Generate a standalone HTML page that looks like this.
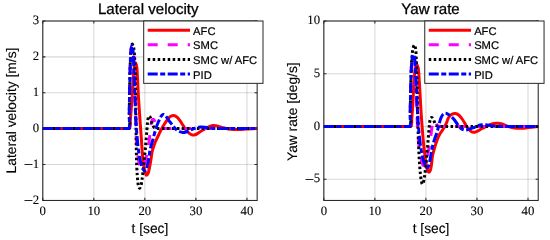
<!DOCTYPE html>
<html><head><meta charset="utf-8"><title>Lateral velocity and Yaw rate</title>
<style>html,body{margin:0;padding:0;background:#fff;} svg{display:block;} text{text-rendering:geometricPrecision;}</style>
</head><body>
<svg width="550" height="240" viewBox="0 0 550 240">
<rect width="550" height="240" fill="#fff"/>
<line x1="42.78" y1="21.0" x2="42.78" y2="200.45" stroke="#262626" stroke-opacity="0.18" stroke-width="1.05"/>
<line x1="93.82" y1="21.0" x2="93.82" y2="200.45" stroke="#262626" stroke-opacity="0.18" stroke-width="1.05"/>
<line x1="144.86" y1="21.0" x2="144.86" y2="200.45" stroke="#262626" stroke-opacity="0.18" stroke-width="1.05"/>
<line x1="195.90" y1="21.0" x2="195.90" y2="200.45" stroke="#262626" stroke-opacity="0.18" stroke-width="1.05"/>
<line x1="246.94" y1="21.0" x2="246.94" y2="200.45" stroke="#262626" stroke-opacity="0.18" stroke-width="1.05"/>
<line x1="42.78" y1="200.45" x2="257.15" y2="200.45" stroke="#262626" stroke-opacity="0.18" stroke-width="1.05"/>
<line x1="42.78" y1="164.56" x2="257.15" y2="164.56" stroke="#262626" stroke-opacity="0.18" stroke-width="1.05"/>
<line x1="42.78" y1="128.67" x2="257.15" y2="128.67" stroke="#262626" stroke-opacity="0.18" stroke-width="1.05"/>
<line x1="42.78" y1="92.78" x2="257.15" y2="92.78" stroke="#262626" stroke-opacity="0.18" stroke-width="1.05"/>
<line x1="42.78" y1="56.89" x2="257.15" y2="56.89" stroke="#262626" stroke-opacity="0.18" stroke-width="1.05"/>
<line x1="42.78" y1="21.00" x2="257.15" y2="21.00" stroke="#262626" stroke-opacity="0.18" stroke-width="1.05"/>
<path d="M42.78,200.45 v-2.6 M42.78,21.0 v2.6 M93.82,200.45 v-2.6 M93.82,21.0 v2.6 M144.86,200.45 v-2.6 M144.86,21.0 v2.6 M195.90,200.45 v-2.6 M195.90,21.0 v2.6 M246.94,200.45 v-2.6 M246.94,21.0 v2.6 M42.78,200.45 h2.6 M257.15,200.45 h-2.6 M42.78,164.56 h2.6 M257.15,164.56 h-2.6 M42.78,128.67 h2.6 M257.15,128.67 h-2.6 M42.78,92.78 h2.6 M257.15,92.78 h-2.6 M42.78,56.89 h2.6 M257.15,56.89 h-2.6 M42.78,21.00 h2.6 M257.15,21.00 h-2.6" stroke="#262626" stroke-width="1.05" fill="none"/>
<path d="M42.78,128.50 L129.50,128.50 C130.75,127.36 130.11,122.28 130.40,119.00 C130.71,115.47 131.01,111.75 131.30,108.00 C131.61,104.09 131.92,100.29 132.20,96.00 C132.52,91.05 132.75,84.95 133.10,80.00 C133.40,75.71 133.58,71.16 134.10,68.00 C134.45,65.89 134.93,62.83 135.40,62.80 C135.78,62.78 136.28,64.56 136.60,66.00 C137.19,68.70 137.22,73.59 137.50,78.00 C137.84,83.39 138.08,90.38 138.40,96.00 C138.68,100.96 139.01,105.51 139.30,110.00 C139.57,114.15 139.83,118.29 140.10,122.00 C140.33,125.22 140.57,127.92 140.80,131.00 C141.04,134.25 141.26,137.51 141.50,141.00 C141.76,144.82 141.97,149.14 142.30,153.00 C142.61,156.62 142.93,160.25 143.40,163.50 C143.82,166.36 144.23,169.36 144.90,171.50 C145.38,173.03 145.99,175.23 146.60,175.30 C147.07,175.35 147.68,174.20 148.10,173.30 C148.75,171.92 149.07,169.53 149.50,167.50 C149.97,165.28 150.37,163.01 150.80,160.50 C151.30,157.58 151.55,154.09 152.30,151.00 C153.05,147.93 154.19,144.78 155.30,142.00 C156.31,139.49 157.58,137.14 158.60,135.00 C159.46,133.19 160.14,131.65 161.00,130.00 C161.87,128.32 162.78,126.64 163.80,125.00 C164.84,123.31 166.08,121.45 167.20,120.00 C168.14,118.78 168.95,117.54 170.00,116.80 C170.91,116.15 171.96,115.63 173.00,115.60 C174.12,115.57 175.42,116.08 176.50,116.80 C177.79,117.65 178.93,119.30 180.00,120.70 C181.10,122.13 182.00,123.78 183.00,125.30 C184.00,126.81 184.95,128.44 186.00,129.80 C186.96,131.05 187.92,132.32 189.00,133.20 C189.94,133.96 190.96,134.64 192.00,134.90 C192.97,135.14 194.03,135.06 195.00,134.80 C196.03,134.52 197.01,133.79 198.00,133.20 C199.02,132.59 199.99,131.84 201.00,131.20 C201.99,130.57 203.00,129.99 204.00,129.40 C205.00,128.82 205.99,128.21 207.00,127.70 C207.99,127.21 208.99,126.75 210.00,126.40 C210.99,126.06 211.99,125.72 213.00,125.60 C213.99,125.49 214.97,125.55 216.00,125.70 C217.13,125.86 218.30,126.27 219.50,126.60 C220.79,126.96 222.12,127.43 223.50,127.80 C224.95,128.19 226.38,128.62 228.00,128.90 C229.85,129.22 232.00,129.40 234.00,129.50 C236.00,129.60 238.00,129.57 240.00,129.50 C242.00,129.43 244.00,129.23 246.00,129.10 C248.00,128.97 250.34,128.81 252.00,128.70 L257.15,128.50" fill="none" stroke="#ff0000" stroke-width="3.0" stroke-linejoin="round"/>
<path d="M42.78,128.50 L129.00,128.50 C131.10,126.44 129.26,113.31 129.40,105.00 C129.56,95.61 129.67,83.99 129.90,75.00 C130.09,67.66 130.19,60.16 130.60,55.00 C130.86,51.73 131.01,48.57 131.60,47.00 C131.88,46.26 132.31,45.45 132.60,45.50 C133.06,45.59 133.34,48.05 133.60,50.00 C134.07,53.52 134.09,59.64 134.30,65.00 C134.54,71.19 134.72,78.33 134.90,85.00 C135.08,91.67 135.23,98.33 135.40,105.00 C135.57,111.67 135.72,118.81 135.90,125.00 C136.06,130.36 136.13,135.39 136.40,140.00 C136.63,143.95 136.92,147.57 137.30,151.00 C137.64,154.02 138.03,156.86 138.50,159.50 C138.91,161.82 139.28,164.24 139.90,166.00 C140.35,167.29 140.86,169.05 141.50,169.20 C141.98,169.31 142.65,168.62 143.10,168.00 C143.78,167.08 144.14,165.29 144.60,163.80 C145.11,162.15 145.57,160.36 146.00,158.50 C146.48,156.45 146.87,154.21 147.30,152.00 C147.74,149.71 148.22,147.42 148.60,145.00 C149.00,142.43 149.30,139.67 149.60,137.00 C149.90,134.34 150.09,131.47 150.40,129.00 C150.67,126.85 150.91,124.64 151.30,123.00 C151.58,121.81 151.84,120.61 152.30,120.00 C152.58,119.62 152.96,119.27 153.30,119.30 C153.70,119.33 154.13,119.95 154.50,120.50 C155.06,121.33 155.46,122.84 156.00,124.00 C156.55,125.18 157.01,126.75 157.80,127.50 C158.42,128.09 159.19,128.32 160.00,128.50 L257.15,128.50" fill="none" stroke="#ff00ff" stroke-width="3.0" stroke-linejoin="round" stroke-dasharray="10 10"/>
<path d="M42.78,128.50 L129.00,128.50 C130.67,126.86 129.20,118.17 129.30,112.00 C129.43,104.10 129.53,93.33 129.70,85.00 C129.84,77.83 129.95,71.07 130.20,65.00 C130.41,59.92 130.53,54.85 131.00,51.00 C131.33,48.25 131.76,44.05 132.30,44.00 C132.68,43.96 133.27,45.98 133.60,47.30 C134.06,49.12 134.19,51.54 134.40,54.00 C134.65,57.00 134.76,60.39 134.90,64.00 C135.07,68.27 135.19,72.92 135.30,78.00 C135.43,84.07 135.50,91.33 135.60,98.00 C135.70,104.67 135.81,111.70 135.90,118.00 C135.98,123.63 136.03,128.67 136.10,134.00 C136.17,139.33 136.20,144.75 136.30,150.00 C136.40,155.08 136.50,160.28 136.70,165.00 C136.88,169.22 137.08,173.35 137.40,177.00 C137.67,180.08 137.86,183.46 138.40,185.50 C138.72,186.72 139.17,188.28 139.60,188.30 C140.00,188.32 140.54,187.02 140.90,186.00 C141.49,184.34 141.74,181.48 142.10,179.00 C142.51,176.19 142.86,173.08 143.20,170.00 C143.56,166.76 143.87,163.33 144.20,160.00 C144.53,156.67 144.88,153.33 145.20,150.00 C145.52,146.67 145.82,143.33 146.10,140.00 C146.38,136.67 146.64,133.15 146.90,130.00 C147.14,127.18 147.31,124.32 147.60,122.00 C147.83,120.19 147.96,118.23 148.40,117.20 C148.65,116.63 149.00,115.99 149.30,116.00 C149.63,116.01 149.99,116.85 150.30,117.50 C150.76,118.49 151.07,120.13 151.50,121.50 C151.96,122.96 152.29,124.86 153.00,126.00 C153.54,126.88 154.19,127.58 155.00,128.00 C155.84,128.43 157.00,128.42 158.00,128.50 L257.15,128.50" fill="none" stroke="#000000" stroke-width="3.0" stroke-linejoin="round" stroke-dasharray="2.5 2.5"/>
<path d="M42.78,128.50 L128.80,128.50 C130.28,127.06 129.09,119.62 129.20,115.00 C129.32,110.13 129.40,105.00 129.50,100.00 C129.60,95.00 129.68,90.00 129.80,85.00 C129.92,80.00 130.06,74.82 130.20,70.00 C130.33,65.51 130.40,60.81 130.60,57.00 C130.76,54.01 130.88,51.09 131.20,49.00 C131.41,47.62 131.70,45.62 132.00,45.60 C132.22,45.58 132.52,46.53 132.70,47.30 C133.05,48.78 133.04,51.36 133.20,54.00 C133.42,57.82 133.61,63.11 133.80,68.00 C134.01,73.39 134.19,79.51 134.40,85.00 C134.59,90.16 134.80,95.09 135.00,100.00 C135.20,104.75 135.38,109.42 135.60,114.00 C135.81,118.41 136.02,122.85 136.30,127.00 C136.56,130.82 136.87,134.42 137.20,138.00 C137.51,141.41 137.83,144.86 138.20,148.00 C138.53,150.82 138.83,153.39 139.30,156.00 C139.76,158.55 140.36,161.23 141.00,163.50 C141.55,165.44 142.06,167.46 142.80,168.80 C143.33,169.75 144.02,171.00 144.60,171.00 C145.15,171.00 145.75,169.87 146.20,169.00 C146.84,167.75 147.16,165.78 147.60,164.00 C148.10,161.98 148.61,159.75 149.00,157.50 C149.42,155.10 149.47,152.59 150.00,150.00 C150.59,147.12 151.63,144.15 152.50,141.00 C153.46,137.52 154.56,133.10 155.50,130.00 C156.20,127.69 156.79,125.84 157.50,124.00 C158.13,122.38 158.83,120.90 159.50,119.50 C160.10,118.25 160.58,116.87 161.30,116.00 C161.86,115.32 162.55,114.58 163.20,114.50 C163.79,114.43 164.43,114.86 165.00,115.30 C165.72,115.86 166.28,116.85 167.00,117.80 C167.91,119.01 168.99,120.62 170.00,122.00 C170.99,123.36 171.97,124.75 173.00,126.00 C173.97,127.18 174.89,128.37 176.00,129.30 C177.07,130.19 178.32,130.96 179.50,131.50 C180.56,131.99 181.62,132.42 182.70,132.50 C183.78,132.58 184.87,132.33 186.00,132.00 C187.29,131.62 188.59,130.80 190.00,130.20 C191.57,129.53 193.31,128.74 195.00,128.20 C196.65,127.68 198.32,127.16 200.00,127.00 C201.66,126.84 203.34,127.03 205.00,127.20 C206.67,127.37 208.25,127.79 210.00,128.00 C211.90,128.23 213.80,128.41 216.00,128.50 C218.69,128.61 222.80,128.50 225.00,128.50 L257.15,128.50" fill="none" stroke="#0000ff" stroke-width="3.0" stroke-linejoin="round" stroke-dasharray="10 2.5 5 2.5"/>
<rect x="42.78" y="21.0" width="214.37" height="179.45" fill="none" stroke="#262626" stroke-width="1.05"/>
<g font-family='"Liberation Serif", "DejaVu Serif", serif' font-size="12.8" fill="#000" stroke="#000" stroke-width="0.08">
<text x="39.08" y="203.55" text-anchor="end"><tspan font-size="16.64" dy="2.17">−</tspan><tspan dy="-2.17" dx="-0.35">2</tspan></text>
<text x="39.08" y="167.66" text-anchor="end"><tspan font-size="16.64" dy="2.17">−</tspan><tspan dy="-2.17" dx="-0.35">1</tspan></text>
<text x="39.08" y="131.77" text-anchor="end">0</text>
<text x="39.08" y="95.88" text-anchor="end">1</text>
<text x="39.08" y="59.99" text-anchor="end">2</text>
<text x="39.08" y="24.10" text-anchor="end">3</text>
<text x="42.78" y="214.9" text-anchor="middle">0</text>
<text x="93.82" y="214.9" text-anchor="middle">10</text>
<text x="144.86" y="214.9" text-anchor="middle">20</text>
<text x="195.90" y="214.9" text-anchor="middle">30</text>
<text x="246.94" y="214.9" text-anchor="middle">40</text>
</g>
<text transform="translate(97.90,14.0)" x="0" y="0" font-family='"Liberation Sans", Arial, Helvetica, sans-serif' font-size="15.1" fill="#000" stroke="#000" stroke-width="0.3">Lateral velocity</text>
<text transform="translate(149.96,233.1)" x="0" y="0" text-anchor="middle" font-family='"Liberation Sans", Arial, Helvetica, sans-serif' font-size="13.75" fill="#000" stroke="#000" stroke-width="0.12">t [sec]</text>
<text transform="translate(15.80,110.50) rotate(-90)" x="0" y="0" text-anchor="middle" font-family='"Liberation Sans", Arial, Helvetica, sans-serif' font-size="13.8" fill="#000" stroke="#000" stroke-width="0.12">Lateral velocity [m/s]</text>
<rect x="143.70" y="21.0" width="119.30" height="62.35" fill="#fff" stroke="#262626" stroke-width="1"/>
<line x1="147.70" y1="30.20" x2="190.00" y2="30.20" stroke="#ff0000" stroke-width="3.0"/>
<text transform="translate(193.10,34.75)" x="0" y="0" font-family='"Liberation Sans", Arial, Helvetica, sans-serif' font-size="11.2" fill="#000" stroke="#000" stroke-width="0.2">AFC</text>
<line x1="147.70" y1="44.83" x2="190.00" y2="44.83" stroke="#ff00ff" stroke-width="3.0" stroke-dasharray="10 10"/>
<text transform="translate(193.10,49.38)" x="0" y="0" font-family='"Liberation Sans", Arial, Helvetica, sans-serif' font-size="11.2" fill="#000" stroke="#000" stroke-width="0.2">SMC</text>
<line x1="147.70" y1="59.46" x2="190.00" y2="59.46" stroke="#000000" stroke-width="3.0" stroke-dasharray="2.5 2.5"/>
<text transform="translate(193.10,64.01)" x="0" y="0" font-family='"Liberation Sans", Arial, Helvetica, sans-serif' font-size="11.2" fill="#000" stroke="#000" stroke-width="0.2">SMC w/ AFC</text>
<line x1="147.70" y1="74.09" x2="190.00" y2="74.09" stroke="#0000ff" stroke-width="3.0" stroke-dasharray="10 2.5 5 2.5"/>
<text transform="translate(193.10,78.64)" x="0" y="0" font-family='"Liberation Sans", Arial, Helvetica, sans-serif' font-size="11.2" fill="#000" stroke="#000" stroke-width="0.2">PID</text>
<line x1="323.83" y1="21.0" x2="323.83" y2="200.45" stroke="#262626" stroke-opacity="0.18" stroke-width="1.05"/>
<line x1="374.88" y1="21.0" x2="374.88" y2="200.45" stroke="#262626" stroke-opacity="0.18" stroke-width="1.05"/>
<line x1="425.92" y1="21.0" x2="425.92" y2="200.45" stroke="#262626" stroke-opacity="0.18" stroke-width="1.05"/>
<line x1="476.97" y1="21.0" x2="476.97" y2="200.45" stroke="#262626" stroke-opacity="0.18" stroke-width="1.05"/>
<line x1="528.01" y1="21.0" x2="528.01" y2="200.45" stroke="#262626" stroke-opacity="0.18" stroke-width="1.05"/>
<line x1="323.83" y1="179.34" x2="538.22" y2="179.34" stroke="#262626" stroke-opacity="0.18" stroke-width="1.05"/>
<line x1="323.83" y1="126.56" x2="538.22" y2="126.56" stroke="#262626" stroke-opacity="0.18" stroke-width="1.05"/>
<line x1="323.83" y1="73.78" x2="538.22" y2="73.78" stroke="#262626" stroke-opacity="0.18" stroke-width="1.05"/>
<line x1="323.83" y1="21.00" x2="538.22" y2="21.00" stroke="#262626" stroke-opacity="0.18" stroke-width="1.05"/>
<path d="M323.83,200.45 v-2.6 M323.83,21.0 v2.6 M374.88,200.45 v-2.6 M374.88,21.0 v2.6 M425.92,200.45 v-2.6 M425.92,21.0 v2.6 M476.97,200.45 v-2.6 M476.97,21.0 v2.6 M528.01,200.45 v-2.6 M528.01,21.0 v2.6 M323.83,179.34 h2.6 M538.22,179.34 h-2.6 M323.83,126.56 h2.6 M538.22,126.56 h-2.6 M323.83,73.78 h2.6 M538.22,73.78 h-2.6 M323.83,21.00 h2.6 M538.22,21.00 h-2.6" stroke="#262626" stroke-width="1.05" fill="none"/>
<path d="M323.83,126.50 L411.00,126.50 C412.16,125.45 411.54,120.95 411.80,118.00 C412.08,114.80 412.36,111.55 412.60,108.00 C412.87,103.95 413.04,99.49 413.30,95.00 C413.57,90.18 413.84,84.72 414.20,80.00 C414.52,75.77 414.60,70.77 415.30,68.00 C415.69,66.44 416.32,64.49 416.80,64.50 C417.28,64.51 417.83,66.45 418.20,68.00 C418.85,70.77 418.90,75.92 419.20,80.00 C419.51,84.24 419.74,88.51 420.00,93.00 C420.28,97.82 420.52,103.28 420.80,108.00 C421.05,112.22 421.32,116.18 421.60,120.00 C421.86,123.49 422.12,126.52 422.40,130.00 C422.71,133.82 423.02,138.09 423.40,142.00 C423.76,145.75 424.18,149.52 424.60,153.00 C424.98,156.15 425.30,159.08 425.80,162.00 C426.28,164.81 426.75,168.41 427.50,170.20 C427.91,171.18 428.43,172.28 428.90,172.30 C429.33,172.31 429.84,171.38 430.20,170.60 C430.79,169.32 431.05,167.10 431.40,165.00 C431.84,162.36 431.96,158.90 432.50,156.00 C433.01,153.24 433.76,150.56 434.50,148.00 C435.20,145.58 436.01,143.18 436.80,141.00 C437.51,139.04 438.16,137.15 439.00,135.50 C439.75,134.02 440.65,132.80 441.50,131.50 C442.32,130.24 443.21,129.15 444.00,127.80 C444.89,126.28 445.74,124.48 446.50,122.80 C447.24,121.15 447.61,119.23 448.50,117.80 C449.31,116.50 450.31,115.22 451.50,114.50 C452.63,113.82 454.15,113.38 455.40,113.50 C456.65,113.62 457.90,114.34 459.00,115.20 C460.30,116.22 461.47,118.06 462.50,119.50 C463.45,120.83 464.22,122.20 465.00,123.50 C465.72,124.70 466.24,125.91 467.00,127.00 C467.75,128.07 468.68,129.17 469.50,130.00 C470.17,130.68 470.79,131.31 471.50,131.70 C472.13,132.04 472.79,132.27 473.50,132.30 C474.28,132.34 475.15,132.09 476.00,131.80 C476.98,131.46 478.01,130.84 479.00,130.30 C480.01,129.75 480.91,129.08 482.00,128.50 C483.22,127.84 484.67,127.25 486.00,126.60 C487.34,125.95 488.64,125.14 490.00,124.60 C491.31,124.08 492.68,123.63 494.00,123.40 C495.24,123.18 496.43,123.12 497.70,123.20 C499.08,123.29 500.49,123.56 502.00,124.00 C503.79,124.52 505.92,125.67 507.70,126.30 C509.22,126.84 510.45,127.27 512.00,127.60 C513.75,127.97 515.93,128.19 517.70,128.30 C519.23,128.39 520.59,128.37 522.00,128.30 C523.36,128.23 524.59,128.07 526.00,127.90 C527.58,127.71 529.33,127.38 531.00,127.20 C532.66,127.02 534.55,126.93 536.00,126.80 L538.22,126.50" fill="none" stroke="#ff0000" stroke-width="3.0" stroke-linejoin="round"/>
<path d="M323.83,126.50 L410.00,126.50 C411.99,124.55 410.26,112.44 410.40,105.00 C410.55,96.98 410.66,87.41 410.90,80.00 C411.09,74.07 411.24,68.24 411.60,64.00 C411.84,61.19 411.93,58.44 412.50,57.00 C412.79,56.26 413.29,55.44 413.60,55.50 C414.04,55.58 414.34,57.49 414.60,59.00 C415.05,61.63 415.10,66.05 415.30,70.00 C415.54,74.61 415.71,79.84 415.90,85.00 C416.11,90.49 416.30,96.42 416.50,102.00 C416.70,107.41 416.87,112.85 417.10,118.00 C417.31,122.82 417.52,127.73 417.80,132.00 C418.03,135.61 418.28,138.86 418.60,142.00 C418.89,144.82 419.22,147.43 419.60,150.00 C419.96,152.42 420.37,154.81 420.80,157.00 C421.18,158.95 421.53,160.96 422.00,162.50 C422.36,163.67 422.63,165.24 423.20,165.50 C423.59,165.67 424.20,165.40 424.60,165.00 C425.27,164.33 425.56,162.48 426.00,161.00 C426.53,159.21 427.02,157.08 427.50,155.00 C428.02,152.76 428.54,150.42 429.00,148.00 C429.48,145.43 429.92,142.67 430.30,140.00 C430.68,137.34 430.97,134.58 431.30,132.00 C431.61,129.59 431.86,126.96 432.20,125.00 C432.45,123.57 432.54,122.04 433.00,121.30 C433.27,120.87 433.66,120.47 434.00,120.50 C434.40,120.53 434.82,121.26 435.20,121.80 C435.70,122.51 436.02,123.75 436.60,124.50 C437.13,125.19 437.76,125.87 438.50,126.20 C439.23,126.53 440.13,126.45 441.00,126.50 L538.22,126.50" fill="none" stroke="#ff00ff" stroke-width="3.0" stroke-linejoin="round" stroke-dasharray="10 10"/>
<path d="M323.83,126.50 L410.00,126.50 C411.67,124.86 410.19,115.76 410.30,110.00 C410.42,103.65 410.54,96.49 410.70,90.00 C410.85,83.84 410.98,77.62 411.20,72.00 C411.39,67.04 411.57,62.15 411.90,58.00 C412.17,54.67 412.36,51.38 412.90,49.00 C413.27,47.37 413.84,45.01 414.30,45.00 C414.70,44.99 415.20,46.68 415.50,48.00 C416.03,50.33 416.00,54.23 416.20,58.00 C416.46,62.92 416.62,69.10 416.80,75.00 C416.99,81.40 417.15,88.33 417.30,95.00 C417.45,101.67 417.56,108.81 417.70,115.00 C417.83,120.36 417.95,125.00 418.10,130.00 C418.25,135.00 418.40,140.00 418.60,145.00 C418.80,150.00 419.01,155.28 419.30,160.00 C419.56,164.22 419.83,168.35 420.20,172.00 C420.51,175.08 420.83,178.26 421.30,180.50 C421.62,182.00 421.98,184.16 422.40,184.20 C422.73,184.23 423.19,182.94 423.50,182.00 C424.00,180.52 424.27,178.15 424.60,176.00 C424.98,173.53 425.28,170.82 425.60,168.00 C425.95,164.85 426.28,161.33 426.60,158.00 C426.92,154.67 427.22,151.33 427.50,148.00 C427.78,144.67 428.04,141.25 428.30,138.00 C428.54,134.92 428.75,131.81 429.00,129.00 C429.22,126.52 429.37,123.95 429.70,122.00 C429.95,120.56 430.09,119.07 430.60,118.30 C430.92,117.82 431.40,117.36 431.80,117.40 C432.27,117.45 432.78,118.32 433.20,119.00 C433.76,119.91 434.08,121.39 434.60,122.50 C435.09,123.55 435.47,124.83 436.20,125.50 C436.82,126.08 437.66,126.33 438.50,126.50 L538.22,126.50" fill="none" stroke="#000000" stroke-width="3.0" stroke-linejoin="round" stroke-dasharray="2.5 2.5"/>
<path d="M323.83,126.50 L409.80,126.50 C411.13,125.20 410.01,119.09 410.10,115.00 C410.21,110.33 410.28,105.00 410.40,100.00 C410.52,95.00 410.66,89.82 410.80,85.00 C410.93,80.51 411.02,76.05 411.20,72.00 C411.36,68.45 411.52,64.91 411.80,62.00 C412.02,59.74 412.14,57.30 412.60,56.00 C412.85,55.30 413.23,54.47 413.50,54.50 C413.84,54.53 414.15,55.91 414.40,57.00 C414.83,58.89 414.97,62.01 415.20,65.00 C415.49,68.81 415.67,73.51 415.90,78.00 C416.14,82.82 416.37,88.00 416.60,93.00 C416.83,98.00 417.05,103.28 417.30,108.00 C417.52,112.22 417.74,116.18 418.00,120.00 C418.24,123.49 418.49,126.52 418.80,130.00 C419.14,133.82 419.53,138.29 420.00,142.00 C420.41,145.22 420.89,148.14 421.40,151.00 C421.87,153.62 422.27,156.13 422.90,158.50 C423.49,160.71 424.14,163.14 425.00,164.80 C425.64,166.04 426.53,167.80 427.20,167.80 C427.78,167.80 428.36,166.59 428.80,165.60 C429.49,164.04 429.76,161.25 430.20,159.00 C430.66,156.66 431.06,154.16 431.50,151.80 C431.93,149.50 432.25,147.23 432.80,145.00 C433.35,142.79 434.08,140.70 434.80,138.50 C435.56,136.20 436.55,133.85 437.25,131.50 C437.94,129.18 438.37,126.80 439.00,124.50 C439.62,122.24 440.20,119.60 441.00,117.80 C441.59,116.46 442.18,115.28 443.00,114.50 C443.69,113.84 444.54,113.24 445.40,113.20 C446.36,113.15 447.51,113.93 448.50,114.50 C449.55,115.11 450.53,115.93 451.50,116.80 C452.54,117.74 453.54,118.82 454.50,120.00 C455.55,121.29 456.47,122.94 457.50,124.30 C458.48,125.60 459.41,127.05 460.50,128.00 C461.43,128.81 462.51,129.48 463.50,129.80 C464.34,130.07 465.13,130.06 466.00,130.00 C466.96,129.93 468.01,129.60 469.00,129.30 C470.01,129.00 470.96,128.60 472.00,128.20 C473.12,127.77 474.38,127.27 475.50,126.80 C476.54,126.37 477.44,125.85 478.50,125.50 C479.61,125.14 480.79,124.84 482.00,124.70 C483.28,124.56 484.67,124.58 486.00,124.70 C487.34,124.82 488.59,125.16 490.00,125.40 C491.57,125.66 493.19,126.02 495.00,126.20 C497.13,126.42 500.15,126.46 502.00,126.50 L538.22,126.50" fill="none" stroke="#0000ff" stroke-width="3.0" stroke-linejoin="round" stroke-dasharray="10 2.5 5 2.5"/>
<rect x="323.83" y="21.0" width="214.39" height="179.45" fill="none" stroke="#262626" stroke-width="1.05"/>
<g font-family='"Liberation Serif", "DejaVu Serif", serif' font-size="12.8" fill="#000" stroke="#000" stroke-width="0.08">
<text x="320.13" y="182.44" text-anchor="end"><tspan font-size="16.64" dy="2.17">−</tspan><tspan dy="-2.17" dx="-0.35">5</tspan></text>
<text x="320.13" y="129.66" text-anchor="end">0</text>
<text x="320.13" y="76.88" text-anchor="end">5</text>
<text x="320.13" y="24.10" text-anchor="end">10</text>
<text x="323.83" y="214.9" text-anchor="middle">0</text>
<text x="374.88" y="214.9" text-anchor="middle">10</text>
<text x="425.92" y="214.9" text-anchor="middle">20</text>
<text x="476.97" y="214.9" text-anchor="middle">30</text>
<text x="528.01" y="214.9" text-anchor="middle">40</text>
</g>
<text transform="translate(401.30,14.0)" x="0" y="0" font-family='"Liberation Sans", Arial, Helvetica, sans-serif' font-size="15.1" fill="#000" stroke="#000" stroke-width="0.3">Yaw rate</text>
<text transform="translate(431.02,233.1)" x="0" y="0" text-anchor="middle" font-family='"Liberation Sans", Arial, Helvetica, sans-serif' font-size="13.75" fill="#000" stroke="#000" stroke-width="0.12">t [sec]</text>
<text transform="translate(297.30,111.70) rotate(-90)" x="0" y="0" text-anchor="middle" font-family='"Liberation Sans", Arial, Helvetica, sans-serif' font-size="13.8" fill="#000" stroke="#000" stroke-width="0.12">Yaw rate [deg/s]</text>
<rect x="424.75" y="21.0" width="119.30" height="62.35" fill="#fff" stroke="#262626" stroke-width="1"/>
<line x1="428.75" y1="30.20" x2="471.05" y2="30.20" stroke="#ff0000" stroke-width="3.0"/>
<text transform="translate(474.15,34.75)" x="0" y="0" font-family='"Liberation Sans", Arial, Helvetica, sans-serif' font-size="11.2" fill="#000" stroke="#000" stroke-width="0.2">AFC</text>
<line x1="428.75" y1="44.83" x2="471.05" y2="44.83" stroke="#ff00ff" stroke-width="3.0" stroke-dasharray="10 10"/>
<text transform="translate(474.15,49.38)" x="0" y="0" font-family='"Liberation Sans", Arial, Helvetica, sans-serif' font-size="11.2" fill="#000" stroke="#000" stroke-width="0.2">SMC</text>
<line x1="428.75" y1="59.46" x2="471.05" y2="59.46" stroke="#000000" stroke-width="3.0" stroke-dasharray="2.5 2.5"/>
<text transform="translate(474.15,64.01)" x="0" y="0" font-family='"Liberation Sans", Arial, Helvetica, sans-serif' font-size="11.2" fill="#000" stroke="#000" stroke-width="0.2">SMC w/ AFC</text>
<line x1="428.75" y1="74.09" x2="471.05" y2="74.09" stroke="#0000ff" stroke-width="3.0" stroke-dasharray="10 2.5 5 2.5"/>
<text transform="translate(474.15,78.64)" x="0" y="0" font-family='"Liberation Sans", Arial, Helvetica, sans-serif' font-size="11.2" fill="#000" stroke="#000" stroke-width="0.2">PID</text>
</svg>
</body></html>
